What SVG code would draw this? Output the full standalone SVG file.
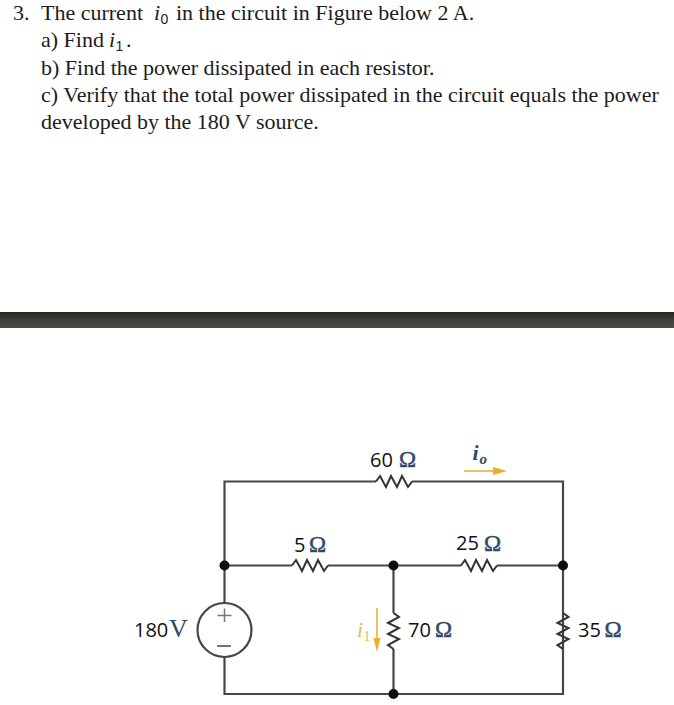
<svg xmlns="http://www.w3.org/2000/svg" width="674" height="705" viewBox="0 0 674 705">
<style>
.q{font:22px "Liberation Serif",serif;fill:#1c1c1c}
.qi{font-style:italic}
.qs{font:14px "Liberation Sans",sans-serif;fill:#1c1c1c}
.l{font:20px "Open Sans","Noto Sans",sans-serif;fill:#111}
.u{font:23px "Liberation Serif",serif;fill:#2f4a68;stroke:#2f4a68;stroke-width:.5}
.w{fill:none;stroke:#474747;stroke-width:2.2}
.r{fill:none;stroke:#333;stroke-width:2;stroke-linejoin:miter}
.d{fill:#0d0d0d}
.a{stroke:#eeae2d;stroke-width:1.600;fill:none}
.ah{fill:#eeae2d}
</style>
<defs>
<linearGradient id="bar" x1="0" y1="0" x2="0" y2="1"><stop offset="0" stop-color="#25241f"/><stop offset="0.6" stop-color="#44423c"/><stop offset="1" stop-color="#4e4c46"/></linearGradient>
<path id="rh" d="M0 0L4 -5.500L10 5.500L15 -5.500L21 5.500L26 -5.500L32 5.500L36 0"/>
</defs>
<rect width="674" height="705" fill="#fff"/>
<g id="question">
<text class="q" x="13" y="20">3.</text><text class="q" x="41" y="20">The current</text>
<text class="q qi" x="154" y="20">i</text><text class="qs" x="160.500" y="24">0</text>
<text class="q" x="176" y="20">in the circuit in Figure below 2 A.</text>
<text class="q" x="41" y="47">a) Find</text><text class="q qi" x="109" y="47">i</text><text class="qs" x="115.500" y="51">1</text><text class="q" x="126" y="47">.</text>
<text class="q" x="41" y="75">b) Find the power dissipated in each resistor.</text>
<text class="q" x="41" y="102">c) Verify that the total power dissipated in the circuit equals the power</text>
<text class="q" x="41" y="129">developed by the 180 V source.</text>
</g>
<rect id="divider" x="0" y="312" width="674" height="16" fill="url(#bar)"/>
<g id="connectors">
<path class="w" d="M224.500 603V481.500H376M412 481.500H563V694H224.500V657"/>
<path class="w" d="M224.500 565.500H292M328 565.500H461M497 565.500H563"/>
<path class="w" d="M393.500 565.500V613M393.500 649V694"/>
</g>
<g id="r60"><use href="#rh" class="r" x="376" y="481.500"/><text class="l" x="370" y="467">60</text><text class="u" x="399" y="467">Ω</text></g>
<g id="r5"><use href="#rh" class="r" x="292" y="565.500"/><text class="l" x="294" y="552">5</text><text class="u" x="309" y="552">Ω</text></g>
<g id="r25"><use href="#rh" class="r" x="461" y="565.500"/><text class="l" x="456" y="550">25</text><text class="u" x="484" y="551">Ω</text></g>
<g id="r70"><use href="#rh" class="r" transform="translate(393.500 613) rotate(90)"/><text class="l" x="408" y="637">70</text><text class="u" x="435" y="637">Ω</text></g>
<g id="r35"><use href="#rh" class="r" transform="translate(563 613) rotate(90)"/><text class="l" x="578" y="637">35</text><text class="u" x="604.500" y="637">Ω</text></g>
<g id="source"><circle cx="224.500" cy="630" r="27" fill="#fff" stroke="#474747" stroke-width="2.200"/>
<path d="M217.500 615.500H231.500M224.500 608.500V622" stroke="#777" stroke-width="1.500" fill="none"/>
<path d="M217 646H231" stroke="#777" stroke-width="2" fill="none"/>
<text class="l" x="134" y="637">180</text><text x="169" y="637" font-family="Liberation Serif,serif" font-size="26" fill="#2f4a68">V</text></g>
<g id="nodes">
<circle class="d" cx="224.500" cy="565.500" r="5"/><circle class="d" cx="393.500" cy="565.500" r="5"/><circle class="d" cx="563" cy="565.500" r="5"/><circle class="d" cx="393.500" cy="694" r="5"/>
</g>
<g id="io"><path class="a" d="M464 471H495"/><path class="ah" d="M493 467L507 471L493 475Z"/><text x="472.500" y="460" font-family="Liberation Serif,serif" font-style="italic" font-weight="bold" font-size="22" fill="#2f4a68">i</text><text x="479.500" y="464" font-family="Liberation Serif,serif" font-style="italic" font-weight="bold" font-size="15" fill="#2f4a68">o</text></g>
<g id="i1"><path class="a" d="M377 608V640"/><path class="ah" d="M373.500 638H380.500L377 652Z"/><text x="357" y="637" font-family="Liberation Serif,serif" font-style="italic" font-size="22" fill="#eeb958">i</text><text x="363.500" y="641" font-family="Liberation Serif,serif" font-size="14" fill="#eeb958">1</text></g>
</svg>
